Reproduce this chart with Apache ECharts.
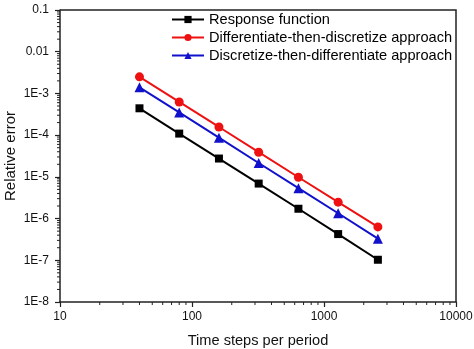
<!DOCTYPE html>
<html>
<head>
<meta charset="utf-8">
<script src="https://cdn.jsdelivr.net/npm/echarts@6/dist/echarts.min.js"></script>
<style>
html,body{margin:0;padding:0;background:#fff;}
#c{width:474px;height:349px;}
</style>
</head>
<body>
<div id="c"></div>
<script>
var steps = [40, 80, 160, 320, 640, 1280, 2560];
var responseFunction = [4.4e-4, 1.09e-4, 2.75e-5, 6.9e-6, 1.72e-6, 4.25e-7, 1.03e-7];
var diffThenDisc = [2.5e-3, 6.25e-4, 1.57e-4, 3.9e-5, 9.8e-6, 2.47e-6, 6.3e-7];
var discThenDiff = [1.4e-3, 3.5e-4, 8.7e-5, 2.15e-5, 5.35e-6, 1.34e-6, 3.3e-7];
var seriesNames = ['Response function', 'Differentiate-then-discretize approach', 'Discretize-then-differentiate approach'];
var xTickLabels = ['10', '100', '1000', '10000'];
var yTickLabels = ['1E-8', '1E-7', '1E-6', '1E-5', '1E-4', '1E-3', '0.01', '0.1'];
var xMin = 10, xMax = 10000, yMin = 1e-8, yMax = 0.1;

function minorTicks(lo, hi) {
  var out = [];
  for (var d = lo; d < hi; d *= 10) {
    for (var k = 2; k <= 9; k++) out.push(d * k);
  }
  return out;
}
var xMinor = minorTicks(xMin, xMax).map(function (v) { return [v, yMin]; });
var yMinor = minorTicks(yMin, yMax).map(function (v) { return [xMin, v]; });

var axisColor = '#222';
var font = 'Liberation Sans, Arial, sans-serif';

function pts(ys) { return steps.map(function (x, i) { return [x, ys[i]]; }); }

var chart = echarts.init(document.getElementById('c'), null, {renderer: 'canvas'});
chart.setOption({
  animation: false,
  backgroundColor: '#fff',
  grid: {left: 60, right: 18, top: 10, bottom: 47, containLabel: false, outerBoundsMode: 'none'},
  legend: {
    data: seriesNames,
    orient: 'vertical',
    left: 171, top: 11,
    itemWidth: 32, itemHeight: 9, itemGap: 1,
    textStyle: {fontFamily: font, fontSize: 14.6, color: '#000', lineHeight: 17},
    padding: 0
  },
  xAxis: {
    type: 'log', logBase: 10, min: xMin, max: xMax,
    name: 'Time steps per period', nameLocation: 'middle', nameGap: 31,
    nameTextStyle: {fontFamily: font, fontSize: 14.6, color: '#111'},
    axisLine: {onZero: false, lineStyle: {color: axisColor, width: 1.5}},
    axisTick: {show: true, inside: false, length: 5, lineStyle: {color: axisColor, width: 1.2}},
    axisLabel: {fontFamily: font, fontSize: 12, color: '#111', margin: 9,
      formatter: function (v) { var e = Math.round(Math.log10(v)); return xTickLabels[e - 1] || ''; }},
    splitLine: {show: false}
  },
  yAxis: {
    type: 'log', logBase: 10, min: yMin, max: yMax,
    name: 'Relative error', nameLocation: 'middle', nameGap: 42, nameMoveOverlap: false,
    nameTextStyle: {fontFamily: font, fontSize: 15, color: '#111'},
    axisLine: {onZero: false, lineStyle: {color: axisColor, width: 1.5}},
    axisTick: {show: true, inside: false, length: 5, lineStyle: {color: axisColor, width: 1.2}},
    axisLabel: {fontFamily: font, fontSize: 12, color: '#111', margin: 11,
      formatter: function (v) { var e = Math.round(Math.log10(v)); return yTickLabels[e + 8] || ''; }},
    splitLine: {show: false}
  },
  series: [
    {
      name: seriesNames[0], type: 'line', data: pts(responseFunction),
      symbol: 'rect', symbolSize: 8, color: '#000',
      lineStyle: {width: 2, color: '#000'}, itemStyle: {color: '#000'}, z: 3
    },
    {
      name: seriesNames[1], type: 'line', data: pts(diffThenDisc),
      symbol: 'circle', symbolSize: 9, color: '#ee1111',
      lineStyle: {width: 2, color: '#ee1111'}, itemStyle: {color: '#ee1111'}, z: 3
    },
    {
      name: seriesNames[2], type: 'line', data: pts(discThenDiff),
      symbol: 'triangle', symbolSize: 10, color: '#1111cc',
      lineStyle: {width: 2, color: '#1111cc'}, itemStyle: {color: '#1111cc'}, z: 3
    },
    {
      type: 'custom', coordinateSystem: 'cartesian2d', data: xMinor, silent: true, clip: false, z: 5,
      renderItem: function (params, api) {
        var p = api.coord([api.value(0), api.value(1)]);
        return {type: 'line', shape: {x1: p[0], y1: p[1], x2: p[0], y2: p[1] + 3}, style: {stroke: axisColor, lineWidth: 1}};
      }
    },
    {
      type: 'custom', coordinateSystem: 'cartesian2d', data: yMinor, silent: true, clip: false, z: 5,
      renderItem: function (params, api) {
        var p = api.coord([api.value(0), api.value(1)]);
        return {type: 'line', shape: {x1: p[0], y1: p[1], x2: p[0] - 3, y2: p[1]}, style: {stroke: axisColor, lineWidth: 1}};
      }
    },
    {
      type: 'custom', coordinateSystem: 'cartesian2d', data: [[xMax, yMax]], silent: true, clip: false, z: 5,
      renderItem: function (params, api) {
        var tl = api.coord([xMin, yMax]);
        var tr = api.coord([xMax, yMax]);
        var br = api.coord([xMax, yMin]);
        return {type: 'polyline', shape: {points: [tl, tr, br]}, style: {stroke: axisColor, lineWidth: 1.5, fill: null}};
      }
    }
  ]
});
</script>
</body>
</html>
